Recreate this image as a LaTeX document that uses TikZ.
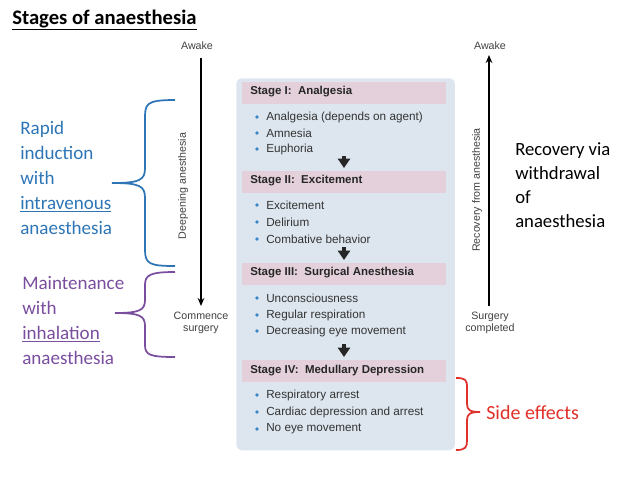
\documentclass[tikz,border=0pt]{standalone}
\usepackage{fontspec}
\setmainfont{Carlito}
\newfontfamily\arial{Liberation Sans}
\usetikzlibrary{arrows.meta}
\definecolor{panel}{HTML}{DDE6EF}
\definecolor{hdr}{HTML}{E3D0DA}
\definecolor{bblue}{HTML}{2E75B6}
\definecolor{ppl}{HTML}{7A4E9E}
\definecolor{rred}{HTML}{E0302A}
\definecolor{dot}{HTML}{3A86C8}
\tikzset{
 hdrbox/.style={fill=hdr,minimum width=153pt,minimum height=16pt,anchor=north west,inner sep=0pt},
 htext/.style={anchor=west,inner sep=0pt,font=\arial\bfseries\fontsize{8.6}{10}\selectfont,text=black!85},
 item/.style={anchor=west,inner sep=0pt,font=\arial\fontsize{8.8}{10}\selectfont,text=black!80},
 small/.style={inner sep=0pt,font=\arial\fontsize{8}{9.5}\selectfont,text=black!75,align=center},
 side/.style={anchor=north west,inner sep=0pt,font=\fontsize{14.3}{18.75}\selectfont,align=left},
 brace/.style={line width=1.3pt},
 flow/.style={-{Triangle[width=9pt,length=7pt]},line width=3pt,black!85}
}
\begin{document}
\begin{tikzpicture}[x=0.75pt,y=-0.75pt]
\useasboundingbox (0,0) rectangle (638,479);
\node[anchor=west,inner sep=0pt,font=\bfseries\fontsize{15.5}{18}\selectfont] (title) at (12,20) {\underline{Stages of anaesthesia}};
\node[fill=panel,rounded corners=4pt,minimum width=164pt,minimum height=279pt,anchor=north west,inner sep=0pt] (panel) at (236,78) {};
% headers
\node[hdrbox] (s1) at (242,82) {};
\node[htext] (s1t) at (250,92) {Stage I:\ \ Analgesia};
\node[hdrbox] (s2) at (242,171) {};
\node[htext] (s2t) at (250,181) {Stage II:\ \ Excitement};
\node[hdrbox] (s3) at (242,263) {};
\node[htext] (s3t) at (250,273) {Stage III:\ \ Surgical Anesthesia};
\node[hdrbox] (s4) at (242,360) {};
\node[htext] (s4t) at (250,371) {Stage IV:\ \ Medullary Depression};
% items
\foreach \y/\t [count=\i] in {117/Analgesia (depends on agent),133/Amnesia,149/Euphoria,205/Excitement,222/Delirium,239/Combative behavior,298/Unconsciousness,315/Regular respiration,331/Decreasing eye movement,395/Respiratory arrest,412/Cardiac depression and arrest,429/No eye movement}{
 \fill[dot] (257,\y) circle (1.4pt);
 \node[item] (it\i) at (266,\y) {\t};
}
% stage arrows
\coordinate (a1) at (344,156); \coordinate (a1e) at (344,168);
\coordinate (a2) at (344,247); \coordinate (a2e) at (344,260);
\coordinate (a3) at (344,344); \coordinate (a3e) at (344,357);
\draw[flow] (a1) -- (a1e);
\draw[flow] (a2) -- (a2e);
\draw[flow] (a3) -- (a3e);
% left axis
\node[small] (awl) at (197,46) {Awake};
\node[small] (com) at (201,323) {Commence\\surgery};
\coordinate (la) at (201,58); \coordinate (lb) at (201,306);
\draw[-{Stealth[length=6pt,width=5pt]},line width=1pt] (la) -- (lb);
\node[small,rotate=90] (deep) at (183,186) {Deepening anesthesia};
% right axis
\node[small] (awr) at (490,46) {Awake};
\node[small] (sc) at (490,323) {Surgery\\completed};
\coordinate (ra) at (489,306); \coordinate (rb) at (489,55);
\draw[-{Stealth[length=6pt,width=5pt]},line width=1pt] (ra) -- (rb);
\node[small,rotate=90] (rec) at (477,190) {Recovery from anesthesia};
% braces
\draw[brace,bblue] (175,100) .. controls (145,100) and (145,104) .. (145,120) -- (145,168) .. controls (145,180) and (140,183) .. (112,183) .. controls (140,183) and (145,186) .. (145,198) -- (145,250) .. controls (145,264) and (150,266) .. (175,266);
\draw[brace,ppl] (175,272) .. controls (150,272) and (145,275) .. (145,285) -- (145,300) .. controls (145,310) and (140,313) .. (115,313) .. controls (140,313) and (145,316) .. (145,326) -- (145,345) .. controls (145,355) and (150,357) .. (175,357);
\draw[brace,rred] (456,378) .. controls (466,378) and (467,380) .. (467,388) -- (467,404) .. controls (467,410) and (470,412) .. (480,412) .. controls (470,412) and (467,414) .. (467,420) -- (467,440) .. controls (467,447) and (466,450) .. (456,450);
% side texts
\node[side,text=bblue] (rapid) at (20,121) {Rapid\\induction\\with\\\underline{intravenous}\\anaesthesia};
\node[side,text=ppl] (maint) at (22,276) {Maintenance\\with\\\underline{inhalation}\\anaesthesia};
\node[anchor=west,inner sep=0pt,text=rred,font=\fontsize{15}{17}\selectfont] (se) at (486,413) {Side effects};
\node[side,text=black,font=\fontsize{14}{18}\selectfont] (rv) at (515,142) {Recovery via\\withdrawal\\of\\anaesthesia};
\end{tikzpicture}
\end{document}
